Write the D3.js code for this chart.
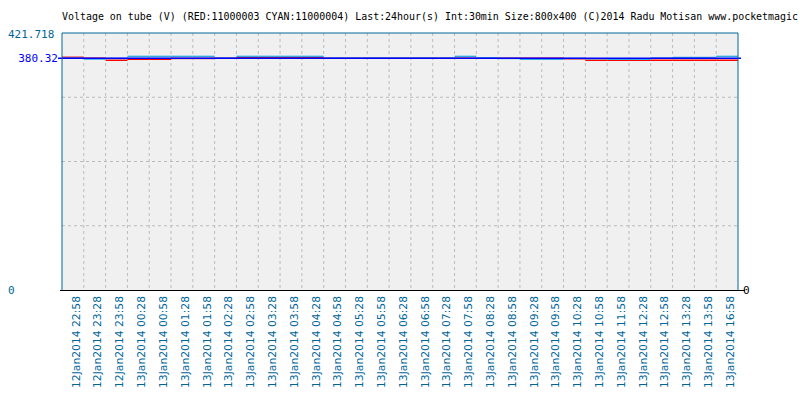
<!DOCTYPE html><html><head><script src="https://cdn.jsdelivr.net/npm/d3@7"></script>
<style>body{margin:0;background:#fff}</style></head><body><svg id="c" width="800" height="400"></svg>
<script>
const labels=["12Jan2014 22:58","12Jan2014 23:28","12Jan2014 23:58","13Jan2014 00:28","13Jan2014 00:58","13Jan2014 01:28","13Jan2014 01:58","13Jan2014 02:28","13Jan2014 02:58","13Jan2014 03:28","13Jan2014 03:58","13Jan2014 04:28","13Jan2014 04:58","13Jan2014 05:28","13Jan2014 05:58","13Jan2014 06:28","13Jan2014 06:58","13Jan2014 07:28","13Jan2014 07:58","13Jan2014 08:28","13Jan2014 08:58","13Jan2014 09:28","13Jan2014 09:58","13Jan2014 10:28","13Jan2014 10:58","13Jan2014 11:58","13Jan2014 12:28","13Jan2014 12:58","13Jan2014 13:28","13Jan2014 13:58","13Jan2014 16:58"];
const red=[381.8,380.3,377,378.6,378.6,380,380,380.3,381.5,381.5,381.5,381.5,380.3,380.3,380.3,380.3,380.3,380.3,380.3,380.3,380.3,380.3,380.3,379.5,377,377,377,377,377,377,377];
const cyan=[380.5,379,380,383.3,383.3,383.3,383.3,380.5,383.3,383.3,383.3,383.3,380.5,380.5,380.5,380.5,380.5,380.5,383.3,381,380,378.6,378.6,380,379.5,378.6,378.6,380.5,381.5,381.5,383.3];
const avg=380.32, yMax=421.718;
const svg=d3.select("#c");
const L=62,R=738,T=33,B=290,n=labels.length;
const x=d3.scaleLinear().domain([0,n]).range([L,R]);
const y=d3.scaleLinear().domain([0,yMax]).range([B,T]);
svg.append("rect").attr("x",L).attr("y",T).attr("width",R-L).attr("height",B-T).attr("fill","#f0f0f0");
for(let i=1;i<n;i++)svg.append("line").attr("x1",x(i)).attr("x2",x(i)).attr("y1",T).attr("y2",B).attr("stroke","#bbb").attr("stroke-dasharray","3,3");
[0.25,0.5,0.75].forEach(f=>svg.append("line").attr("x1",L).attr("x2",R).attr("y1",y(yMax*f)).attr("y2",y(yMax*f)).attr("stroke","#bbb").attr("stroke-dasharray","3,3"));
function steps(d,c){d.forEach((v,i)=>svg.append("line").attr("x1",x(i)).attr("x2",x(i+1)).attr("y1",y(v)).attr("y2",y(v)).attr("stroke",c).attr("stroke-width",1.5));}
steps(red,"#ff0000");steps(cyan,"#33aadd");
svg.append("line").attr("x1",L-4).attr("x2",R+3).attr("y1",y(avg)).attr("y2",y(avg)).attr("stroke","#0000ff").attr("stroke-width",1.5);
svg.append("line").attr("x1",L).attr("x2",R).attr("y1",T).attr("y2",T).attr("stroke","#006699");
svg.append("line").attr("x1",L).attr("x2",L).attr("y1",T).attr("y2",B).attr("stroke","#006699");
svg.append("line").attr("x1",R).attr("x2",R).attr("y1",T).attr("y2",B).attr("stroke","#006699");
svg.append("line").attr("x1",L-2).attr("x2",R+7).attr("y1",B+0.5).attr("y2",B+0.5).attr("stroke","#000");
const f="DejaVu Sans Mono, monospace";
svg.append("text").attr("x",62).attr("y",20).attr("font-family",f).attr("font-size",10.7).attr("textLength",736).attr("lengthAdjust","spacingAndGlyphs").text("Voltage on tube (V) (RED:11000003 CYAN:11000004) Last:24hour(s) Int:30min Size:800x400 (C)2014 Radu Motisan www.pocketmagic");
svg.append("text").attr("x",8).attr("y",38).attr("font-family",f).attr("font-size",11).attr("fill","#006699").text(yMax);
svg.append("text").attr("x",58).attr("y",y(avg)+4).attr("text-anchor","end").attr("font-family",f).attr("font-size",11).attr("fill","#0000ff").text(avg);
svg.append("text").attr("x",8).attr("y",294).attr("font-family",f).attr("font-size",11).attr("fill","#006699").text("0");
svg.append("text").attr("x",743).attr("y",294).attr("font-family",f).attr("font-size",11).attr("fill","#000").text("0");
labels.forEach((t,i)=>{const xx=x(i+1)-8;svg.append("text").attr("transform",`translate(${xx},${B+6}) rotate(-90)`).attr("text-anchor","end").attr("font-family","DejaVu Sans, sans-serif").attr("font-size",11).attr("fill","#006699").attr("dy","0.35em").attr("textLength",92).attr("lengthAdjust","spacingAndGlyphs").text(t.replace(" ","  "));});
</script></body></html>
